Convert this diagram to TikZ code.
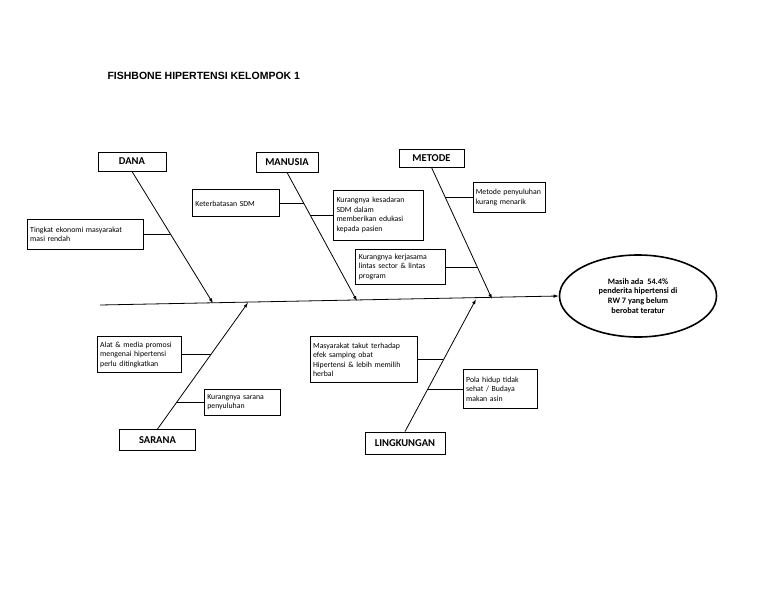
\documentclass[tikz,border=0pt]{standalone}
\usepackage{fontspec}
\setmainfont{Carlito}
\newfontfamily\titlefont{Liberation Sans}
\usetikzlibrary{arrows.meta, calc, positioning, shapes.geometric}

\begin{document}
\begin{tikzpicture}[
		x=1pt, y=-1pt,
		texts/.style = {text=black},
		causetexts/.style = {texts, font=\fontsize{7.8}{9.5}\selectfont},
		headbox/.style = {texts, draw, line width=0.9pt, font=\fontsize{10.5}{12}\selectfont\bfseries, inner sep=0pt},
		causebox/.style = {causetexts, draw, line width=0.8pt, align=left, inner xsep=3pt, inner ysep=2pt},
		boneline/.style = {draw, line width=0.8pt, -{Latex[length=5pt, width=3.5pt]}},
		stubline/.style = {draw, line width=0.8pt, -},
		effectnode/.style = {texts, draw, ellipse, line width=1.6pt, align=center, font=\fontsize{8.3}{9.8}\selectfont\bfseries, minimum width=157pt, minimum height=82pt, inner sep=0pt}
		]
		\useasboundingbox (0,0) rectangle (768,594);
		
		\node [texts, anchor=west, font=\titlefont\fontsize{10.5}{12}\selectfont\bfseries] (title) at (104,76) {FISHBONE HIPERTENSI KELOMPOK 1};
		
		\node [effectnode] (effect) at (638,296) {Masih ada~~54.4\%\\penderita hipertensi di\\RW 7 yang belum\\berobat teratur};
		
		\node [headbox, minimum width=68pt, minimum height=19pt] (dana) at (132,161.5) {DANA};
		\node [headbox, minimum width=62pt, minimum height=20pt] (manusia) at (287,162) {MANUSIA};
		\node [headbox, minimum width=65pt, minimum height=18pt] (metode) at (431.5,158) {METODE};
		\node [headbox, minimum width=76pt, minimum height=21pt] (sarana) at (157.5,440) {SARANA};
		\node [headbox, minimum width=80pt, minimum height=22pt] (lingkungan) at (405,443) {LINGKUNGAN};
		
		\coordinate (tail) at (100,305);
		\coordinate (danahead) at (213,303.3);
		\coordinate (manusiahead) at (357,301.1);
		\coordinate (metodehead) at (492,299);
		\coordinate (saranahead) at (248,302.7);
		\coordinate (lingkunganhead) at (476,299.2);
		
		\draw[boneline] (tail) -- (effect.west);
		\draw[boneline] (dana.south) -- coordinate[pos=0.477] (dana1) (danahead);
		\draw[boneline] (manusia.south) -- coordinate[pos=0.24] (manusia1) coordinate[pos=0.33] (manusia2) (manusiahead);
		\draw[boneline] (metode.south) -- coordinate[pos=0.229] (metode1) coordinate[pos=0.756] (metode2) (metodehead);
		\draw[boneline] (sarana.north) -- coordinate[pos=0.587] (sarana1) coordinate[pos=0.214] (sarana2) (saranahead);
		\draw[boneline] (lingkungan.north) -- coordinate[pos=0.542] (lingkungan1) coordinate[pos=0.32] (lingkungan2) (lingkunganhead);
		
		\node [causebox, text width=110pt, minimum height=30pt, left=27pt of dana1] (ekonomi) {Tingkat ekonomi masyarakat\\masi rendah};
		\node [causebox, text width=81pt, minimum height=27pt, left=24pt of manusia1] (sdm) {Keterbatasan SDM};
		\node [causebox, text width=84pt, minimum height=50pt, right=23pt of manusia2] (kesadaran) {Kurangnya kesadaran\\SDM dalam\\memberikan edukasi\\kepada pasien};
		\node [causebox, text width=68pt, inner xsep=2pt, minimum height=30pt, right=28pt of metode1] (penyuluhan) {Metode penyuluhan\\kurang menarik};
		\node [causebox, text width=84pt, minimum height=35pt, left=31pt of metode2] (kerjasama) {Kurangnya kerjasama\\lintas sector \& lintas\\program};
		\node [causebox, text width=78pt, minimum height=36pt, left=29pt of sarana1] (promosi) {Alat \& media promosi\\mengenai hipertensi\\perlu ditingkatkan};
		\node [causebox, text width=70pt, minimum height=26pt, right=27pt of sarana2] (sarana) {Kurangnya sarana\\penyuluhan};
		\node [causebox, text width=101pt, minimum height=46pt, left=26pt of lingkungan1] (takut) {Masyarakat takut terhadap\\efek samping obat\\Hipertensi \& lebih memilih\\herbal};
		\node [causebox, text width=68pt, minimum height=39pt, right=35pt of lingkungan2] (polahidup) {Pola hidup tidak\\sehat / Budaya\\makan asin};
		
		\draw[stubline] (ekonomi) -- (dana1);
		\draw[stubline] (sdm) -- (manusia1);
		\draw[stubline] (kesadaran) -- (manusia2);
		\draw[stubline] (penyuluhan) -- (metode1);
		\draw[stubline] (kerjasama) -- (metode2);
		\draw[stubline] (promosi) -- (sarana1);
		\draw[stubline] (sarana) -- (sarana2);
		\draw[stubline] (takut) -- (lingkungan1);
		\draw[stubline] (polahidup) -- (lingkungan2);
		
		\end{tikzpicture}
\end{document}
